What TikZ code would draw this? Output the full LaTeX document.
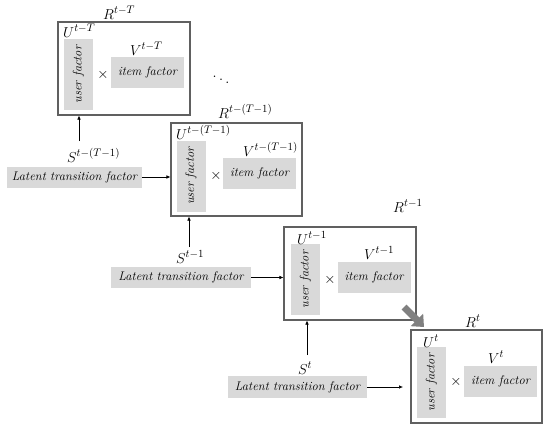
\documentclass[tikz,border=0pt]{standalone}
\usetikzlibrary{arrows.meta}
\definecolor{fillgray}{HTML}{D9D9D9}
\definecolor{boxgray}{HTML}{606060}
\definecolor{arrowgray}{HTML}{808080}
\begin{document}
\begin{tikzpicture}[x=1pt,y=-1pt,
  outerbox/.style={draw=boxgray, line width=1.1pt, minimum width=131pt, minimum height=93pt, inner sep=0pt},
  userbox/.style={fill=fillgray, minimum width=71pt, minimum height=29pt, inner sep=0pt, rotate=90, font=\fontsize{12.5}{15}\selectfont\itshape},
  itembox/.style={fill=fillgray, minimum width=73pt, minimum height=31pt, inner sep=0pt, font=\fontsize{12.5}{15}\selectfont\itshape},
  latentbox/.style={fill=fillgray, minimum height=21pt, inner sep=0pt, font=\fontsize{12.5}{15}\selectfont\itshape},
  lab/.style={inner sep=0pt, font=\fontsize{15}{18}\selectfont, anchor=base west},
  times/.style={inner sep=0pt, font=\fontsize{15}{18}\selectfont},
  conn/.style={-{Latex[length=4pt,width=3.5pt]}, line width=0.6pt, black},
]
\useasboundingbox (0,0) rectangle (550,432);

% ---------- unit 1 ----------
\node[outerbox, minimum width=132pt] (R1) at (124,68.5) {};
\node[userbox] (u1) at (78.5,74.5) {user factor};
\node[itembox] (v1) at (147.5,72.5) {item factor};
\node[times] (x1) at (103,75) {$\times$};
\node[lab] (Rl1) at (103,19) {$R^{t-T}$};
\node[lab] (Ul1) at (63,37) {$U^{t-T}$};
\node[lab] (Vl1) at (130,55) {$V^{t-T}$};

% ---------- unit 2 ----------
\node[outerbox] (R2) at (236.5,169.5) {};
\node[userbox] (u2) at (191,176) {user factor};
\node[itembox] (v2) at (259.5,173.5) {item factor};
\node[times] (x2) at (216,176) {$\times$};
\node[lab] (Rl2) at (218,118) {$R^{t-(T-1)}$};
\node[lab] (Ul2) at (176,139) {$U^{t-(T-1)}$};
\node[lab] (Vl2) at (243,156) {$V^{t-(T-1)}$};

% ---------- unit 3 ----------
\node[outerbox, minimum width=132pt] (R3) at (350,273.5) {};
\node[userbox] (u3) at (305.5,279.5) {user factor};
\node[itembox] (v3) at (374,277.5) {item factor};
\node[times] (x3) at (330,280) {$\times$};
\node[lab] (Rl3) at (393,212) {$R^{t-1}$};
\node[lab] (Ul3) at (297,244) {$U^{t-1}$};
\node[lab] (Vl3) at (364,259) {$V^{t-1}$};

% ---------- unit 4 ----------
\node[outerbox] (R4) at (476.5,376.5) {};
\node[userbox] (u4) at (431.5,382.5) {user factor};
\node[itembox] (v4) at (500.5,381) {item factor};
\node[times] (x4) at (456,382) {$\times$};
\node[lab] (Rl4) at (465,327) {$R^{t}$};
\node[lab] (Ul4) at (423,347) {$U^{t}$};
\node[lab] (Vl4) at (488,363) {$V^{t}$};

% ---------- dots ----------
\node[inner sep=0pt, font=\fontsize{18}{20}\selectfont] (dots) at (221,77) {$\ddots$};

% ---------- latent factors ----------
\node[latentbox, minimum width=135pt] (L1) at (74.5,177) {Latent transition factor};
\node[latentbox, minimum width=140pt] (L2) at (181,277.5) {Latent transition factor};
\node[latentbox, minimum width=139pt, minimum height=22pt] (L3) at (297.5,387) {Latent transition factor};

\node[lab] (S1) at (67,162) {$S^{t-(T-1)}$};
\node[lab] (S2) at (176,263) {$S^{t-1}$};
\node[lab] (S3) at (298,374) {$S^{t}$};

% ---------- connectors ----------
\draw[conn] (L1.east) -- (L1.east -| R2.west);
\draw[conn] (L2.east) -- (L2.east -| R3.west);
\coordinate (e3) at (403,387);
\draw[conn] (L3.east) -- (e3);

\coordinate (a1) at (79,141);
\coordinate (a2) at (189,247);
\coordinate (a3) at (307,355);
\draw[conn] (a1) -- (a1 |- R1.south);
\draw[conn] (a2) -- (a2 |- R2.south);
\draw[conn] (a3) -- (a3 |- R3.south);

\coordinate (g1) at (404,307);
\coordinate (g2) at (424,327);
\draw[arrowgray, line width=7pt, -{Triangle[length=10pt,width=17pt]}] (g1) -- (g2);
\end{tikzpicture}
\end{document}
